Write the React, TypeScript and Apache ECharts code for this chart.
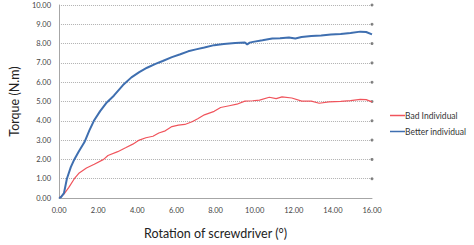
import React, { useEffect, useRef } from "react";
import * as echarts from "echarts";

const betterX = [0, 0.1, 0.25, 0.4, 0.6, 0.78, 1.0, 1.3, 1.55, 1.78, 2.1, 2.44, 2.8, 3.27, 3.7, 4.1, 4.5, 4.93, 5.3, 5.77, 6.2, 6.6, 7.0, 7.43, 7.93, 8.42, 9.0, 9.5, 9.62, 9.75, 9.92, 10.4, 10.9, 11.3, 11.75, 12.08, 12.4, 12.9, 13.4, 13.9, 14.4, 14.9, 15.4, 15.7, 16.0];
const betterY = [0, 0.05, 0.25, 1.0, 1.6, 2.0, 2.4, 2.9, 3.5, 4.0, 4.5, 4.95, 5.3, 5.85, 6.25, 6.52, 6.75, 6.95, 7.1, 7.3, 7.45, 7.6, 7.7, 7.8, 7.92, 7.98, 8.03, 8.06, 7.96, 8.05, 8.09, 8.17, 8.26, 8.28, 8.32, 8.26, 8.34, 8.39, 8.42, 8.47, 8.5, 8.55, 8.62, 8.6, 8.48];

const badX = [0, 0.25, 0.5, 0.78, 1.03, 1.4, 1.8, 2.28, 2.5, 3.0, 3.4, 3.77, 4.1, 4.44, 4.8, 5.1, 5.43, 5.77, 6.1, 6.43, 6.8, 7.09, 7.43, 7.93, 8.26, 8.7, 9.09, 9.5, 9.9, 10.25, 10.75, 11.1, 11.4, 11.9, 12.41, 12.9, 13.3, 13.8, 14.4, 14.9, 15.4, 15.7, 16.0];
const badY = [0, 0.2, 0.55, 1.0, 1.3, 1.55, 1.75, 2.0, 2.2, 2.4, 2.6, 2.79, 3.0, 3.12, 3.2, 3.37, 3.48, 3.7, 3.78, 3.81, 3.95, 4.11, 4.31, 4.49, 4.69, 4.78, 4.86, 5.02, 5.04, 5.07, 5.22, 5.15, 5.24, 5.18, 5.02, 5.02, 4.91, 4.98, 5.01, 5.05, 5.11, 5.1, 4.98];

const gridTicks = [1, 2, 3, 4, 5, 6, 7, 8, 9, 10];
const seriesNames = ["Bad Individual", "Better individual"];

const FONT = "Lato, 'Liberation Sans', sans-serif";

export default function App() {
  const ref = useRef<HTMLDivElement>(null);
  useEffect(() => {
    if (!ref.current) return;
    const chart = echarts.init(ref.current, null, { renderer: "svg" });
    chart.setOption({
      animation: false,
      backgroundColor: "#ffffff",
      textStyle: { fontFamily: FONT },
      grid: { left: 51, right: 102, top: 5, bottom: 39 },
      legend: {
        data: seriesNames,
        orient: "vertical",
        left: 390,
        top: 111,
        padding: 0,
        icon: "rect",
        itemWidth: 15,
        itemHeight: 1.5,
        itemGap: 7,
        textStyle: { fontSize: 8.5, color: "#333", fontFamily: FONT, padding: [0, 0, 0, -5] },
      },
      xAxis: {
        type: "value",
        min: 0,
        max: 16,
        interval: 2,
        name: "Rotation of screwdriver (°)",
        nameLocation: "middle",
        nameGap: 29,
        nameTextStyle: { fontSize: 12.5, color: "#222", fontFamily: FONT },
        axisLine: { show: true, lineStyle: { color: "#a6a6a6", width: 1 } },
        axisTick: { show: false },
        splitLine: { show: false },
        axisLabel: { fontSize: 7.5, color: "#444", margin: 8, formatter: (v: number) => v.toFixed(2) },
      },
      yAxis: {
        type: "value",
        min: 0,
        max: 10,
        interval: 1,
        name: "Torque (N.m)",
        nameLocation: "middle",
        nameGap: 34,
        nameTextStyle: { fontSize: 12.5, color: "#222", fontFamily: FONT },
        axisLine: { show: true, lineStyle: { color: "#a6a6a6", width: 1 } },
        axisTick: { show: false },
        splitLine: { show: true, lineStyle: { color: "#b0b0b0", type: [1, 1], width: 1 } },
        axisLabel: { fontSize: 7.5, color: "#444", margin: 8, formatter: (v: number) => v.toFixed(2) },
      },
      series: [
        {
          name: seriesNames[0],
          type: "line",
          data: badX.map((x, i) => [x, badY[i]]),
          showSymbol: false,
          lineStyle: { color: "#f0545c", width: 1.2 },
          itemStyle: { color: "#f0545c" },
          z: 3,
        },
        {
          name: seriesNames[1],
          type: "line",
          data: betterX.map((x, i) => [x, betterY[i]]),
          showSymbol: false,
          lineStyle: { color: "#3f6fb0", width: 2 },
          itemStyle: { color: "#3f6fb0" },
          z: 4,
        },
        {
          name: "ends",
          type: "scatter",
          data: gridTicks.map((t) => [16, t]),
          symbolSize: 3,
          itemStyle: { color: "#666" },
          silent: true,
          z: 2,
        },
      ],
    });
    return () => chart.dispose();
  }, []);
  return <div ref={ref} style={{ position: "fixed", left: 0, top: 0, width: 474, height: 245 }} />;
}
